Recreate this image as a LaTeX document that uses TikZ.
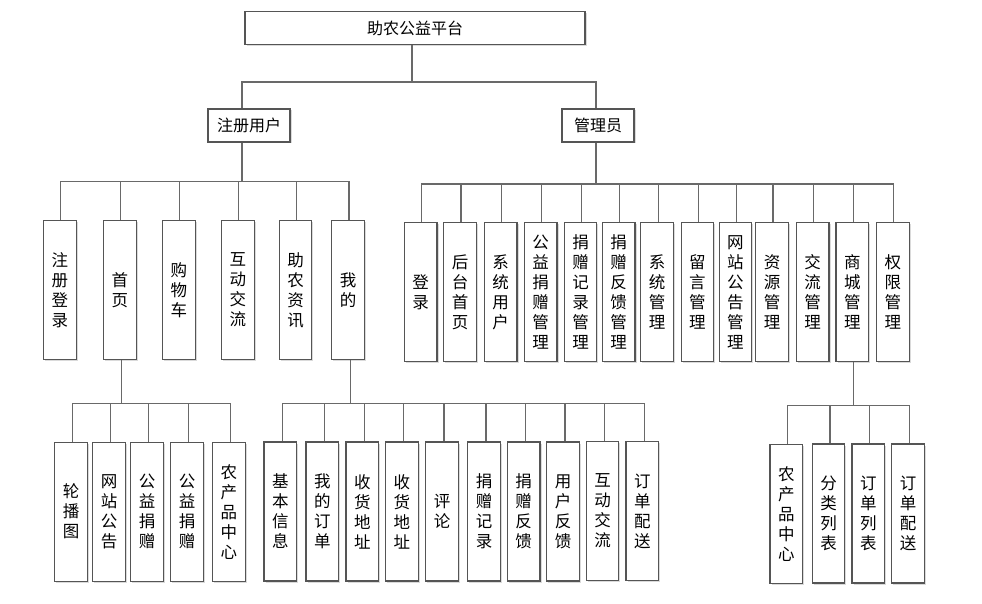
\documentclass[tikz,border=0pt]{standalone}
\usepackage{fontspec}
\newfontfamily\cjk{Noto Sans CJK SC}
\usepackage{tikz}
\usetikzlibrary{shadows}
\usepackage{xcolor}
\definecolor{cLine}{RGB}{105,105,105}
\definecolor{cBox}{RGB}{85,85,85}
\definecolor{cShade}{RGB}{218,218,218}

\tikzset{
  boxbase/.style={draw=cBox, line width=1.1pt, fill=white, inner sep=0pt,
    drop shadow={shadow xshift=1.5pt, shadow yshift=-1.5pt, fill=cShade, opacity=1}},
  hbox/.style={boxbase, minimum height=33pt, font=\cjk\fontsize{16}{18}\selectfont},
  vbox/.style={boxbase, minimum width=32.6pt, minimum height=139pt, align=center,
    font=\cjk\fontsize{16.5}{20}\selectfont},
  link/.style={draw=cLine, line width=1.1pt}
}

\begin{document}
\begin{tikzpicture}[x=1pt, y=-1pt]
  \useasboundingbox (0,0) rectangle (982,604);
  % Top levels
  \node[hbox, minimum width=340pt] (root) at (415,28) {助农公益平台};
  \node[hbox, minimum width=82pt] (users) at (249,125.5) {注册用户};
  \node[hbox, minimum width=72pt] (admin) at (598,125.5) {管理员};
  % Registered user
  \node[vbox] (a1) at (59.8,290) {注\\册\\登\\录};
  \node[vbox] (a2) at (119.9,290) {首\\页};
  \node[vbox] (a3) at (178.9,290) {购\\物\\车};
  \node[vbox] (a4) at (237.9,290) {互\\动\\交\\流};
  \node[vbox] (a5) at (295.5,290) {助\\农\\资\\讯};
  \node[vbox] (a6) at (348,290) {我\\的};
  % Administrator
  \node[vbox] (b1) at (420.7,292.2) {登\\录};
  \node[vbox] (b2) at (460,292.2) {后\\台\\首\\页};
  \node[vbox] (b3) at (500.7,292.2) {系\\统\\用\\户};
  \node[vbox] (b4) at (540.7,292.2) {公\\益\\捐\\赠\\管\\理};
  \node[vbox] (b5) at (580.5,292.2) {捐\\赠\\记\\录\\管\\理};
  \node[vbox] (b6) at (618.7,292.2) {捐\\赠\\反\\馈\\管\\理};
  \node[vbox] (b7) at (657.2,292.2) {系\\统\\管\\理};
  \node[vbox] (b8) at (697.4,292.2) {留\\言\\管\\理};
  \node[vbox] (b9) at (735.4,292.2) {网\\站\\公\\告\\管\\理};
  \node[vbox] (b10) at (772,292.2) {资\\源\\管\\理};
  \node[vbox] (b11) at (812.7,292.2) {交\\流\\管\\理};
  \node[vbox] (b12) at (852.3,292.2) {商\\城\\管\\理};
  \node[vbox] (b13) at (892.8,292.2) {权\\限\\管\\理};
  % Home page
  \node[vbox] (c1) at (71,511.7) {轮\\播\\图};
  \node[vbox] (c2) at (109,511.7) {网\\站\\公\\告};
  \node[vbox] (c3) at (147,511.7) {公\\益\\捐\\赠};
  \node[vbox] (c4) at (187,511.7) {公\\益\\捐\\赠};
  \node[vbox] (c5) at (228.9,511.7) {农\\产\\品\\中\\心};
  % Mine
  \node[vbox] (d1) at (280.3,511.5) {基\\本\\信\\息};
  \node[vbox] (d2) at (322.3,511.5) {我\\的\\订\\单};
  \node[vbox] (d3) at (362.3,511.5) {收\\货\\地\\址};
  \node[vbox] (d4) at (401.8,511.5) {收\\货\\地\\址};
  \node[vbox] (d5) at (442,511.5) {评\\论};
  \node[vbox] (d6) at (484,511.5) {捐\\赠\\记\\录};
  \node[vbox] (d7) at (523.7,511.5) {捐\\赠\\反\\馈};
  \node[vbox] (d8) at (563,511.5) {用\\户\\反\\馈};
  \node[vbox] (d9) at (602.5,511) {互\\动\\交\\流};
  \node[vbox] (d10) at (642.3,511) {订\\单\\配\\送};
  % Shop
  \node[vbox] (e1) at (786.3,514) {农\\产\\品\\中\\心};
  \node[vbox] (e2) at (828.5,513.5) {分\\类\\列\\表};
  \node[vbox] (e3) at (868.3,513.5) {订\\单\\列\\表};
  \node[vbox] (e4) at (908,513.5) {订\\单\\配\\送};
  % Connectors
  \draw[link] ([xshift=-3pt]root.south) -- ++(0,37) -| ([xshift=-7pt]users.north);
  \draw[link] ([xshift=-3pt]root.south) -- ++(0,37) -| ([xshift=-2pt]admin.north);
  \foreach \c in {a1,a2,a3,a4,a5,a6}
    \draw[link] ([xshift=-7pt]users.south) -- ++(0,39) -| ([xshift=1pt]\c.north);
  \foreach \c in {b1,b2,b3,b4,b5,b6,b7,b8,b9,b10,b11,b12,b13}
    \draw[link] ([xshift=-2pt]admin.south) -- ++(0,41.5) -| ([xshift=1pt]\c.north);
  \foreach \c in {c1,c2,c3,c4,c5}
    \draw[link] ([xshift=1.5pt]a2.south) -- ++(0,43.4) -| ([xshift=1.5pt]\c.north);
  \foreach \c in {d1,d2,d3,d4,d5,d6,d7,d8,d9,d10}
    \draw[link] ([xshift=2.5pt]a6.south) -- ++(0,43.2) -| ([xshift=2pt]\c.north);
  \foreach \c in {e1,e2,e3,e4}
    \draw[link] ([xshift=1pt]b12.south) -- ++(0,43.3) -| ([xshift=1.5pt]\c.north);
\end{tikzpicture}
\end{document}
